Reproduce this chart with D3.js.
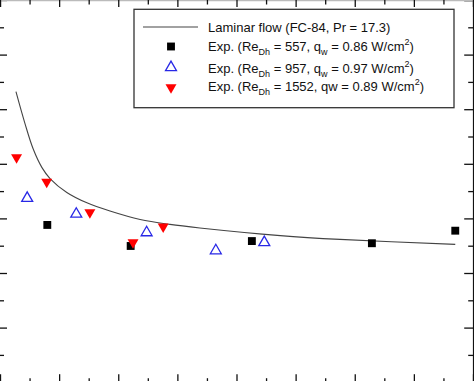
<!DOCTYPE html>
<html><head><meta charset="utf-8">
<script src="https://cdn.jsdelivr.net/npm/d3@7"></script>
<style>html,body{margin:0;padding:0;background:#fff;overflow:hidden}</style>
</head><body>
<svg id="c" width="474" height="381"></svg>
<script>
// Data (x: axial position, y: Nusselt-type value)
const laminarX = [2.7, 4.2, 5.6, 7.1, 8.5, 11.3, 14.7, 18.6, 23.7, 28.75, 33.8, 47.4, 57.5, 77.0];
const laminarY = [10.64, 9.49, 8.55, 7.86, 7.45, 6.95, 6.57, 6.27, 5.96, 5.78, 5.65, 5.37, 5.23, 5.05];
const re557X = [8.0, 22.1, 42.6, 62.9, 77.0];
const re557Y = [5.76, 4.99, 5.17, 5.09, 5.55];
const re957X = [4.6, 12.9, 24.8, 36.5, 44.7];
const re957Y = [6.74, 6.16, 5.48, 4.82, 5.12];
const re1552X = [2.8, 7.9, 15.2, 22.5, 27.6];
const re1552Y = [8.23, 7.34, 6.22, 5.12, 5.70];
const xMajorTicks = [0, 10, 20, 30, 40, 50, 60, 70, 80];
const xMinorTicks = [5, 15, 25, 35, 45, 55, 65, 75];
const yMajorTicks = [0, 2, 4, 6, 8, 10, 12, 14];
const yMinorTicks = [1, 3, 5, 7, 9, 11, 13];

const svg = d3.select('#c');
const x = d3.scaleLinear().domain([0, 80]).range([0, 473]);
const y = d3.scaleLinear().domain([0, 14]).range([382.2, 0]);

function axis(gen, tr, vals, size) {
  const g = svg.append('g').attr('transform', tr)
    .call(gen.tickValues(vals).tickSize(size).tickFormat(''));
  g.selectAll('.tick line').attr('stroke', '#111').attr('stroke-width', 1.3);
  return g;
}
// left (cropped) - inward ticks
axis(d3.axisLeft(y), 'translate(-1,0)', yMajorTicks, -8).select('.domain').remove();
axis(d3.axisLeft(y), 'translate(-1,0)', yMinorTicks, -5).select('.domain').remove();
// right
const gr = axis(d3.axisRight(y), 'translate(473.2,0)', yMajorTicks, -9);
gr.select('.domain').attr('stroke', '#111').attr('stroke-width', 1.6);
axis(d3.axisRight(y), 'translate(473.2,0)', yMinorTicks, -5).select('.domain').remove();
// bottom
axis(d3.axisBottom(x), 'translate(0,382.2)', xMajorTicks, -8).select('.domain').remove();
axis(d3.axisBottom(x), 'translate(0,382.2)', xMinorTicks, -4).select('.domain').remove();
// top
const gt = axis(d3.axisTop(x), 'translate(0,0)', xMajorTicks, -7);
gt.select('.domain').attr('stroke', '#bbb').attr('stroke-width', 1.5);
axis(d3.axisTop(x), 'translate(0,0)', xMinorTicks, -4.5).select('.domain').remove();

// laminar line
const lam = laminarX.map((v, i) => [v, laminarY[i]]);
svg.append('path').datum(lam)
  .attr('d', d3.line().x(d => x(d[0])).y(d => y(d[1])).curve(d3.curveCatmullRom.alpha(0.5)))
  .attr('fill', 'none').attr('stroke', '#444').attr('stroke-width', 1.1);

const sq = d3.symbol().type(d3.symbolSquare).size(62);
const tri = d3.symbol().type(d3.symbolTriangle).size(52);

function drawPts(xs, ys, draw) {
  xs.forEach((v, i) => draw(x(v), y(ys[i])));
}
drawPts(re557X, re557Y, (px, py) => svg.append('path').attr('d', sq())
  .attr('transform', `translate(${px},${py})`).attr('fill', '#000'));
drawPts(re957X, re957Y, (px, py) => svg.append('path').attr('d', tri())
  .attr('transform', `translate(${px},${py})`).attr('fill', 'none')
  .attr('stroke', '#2828e6').attr('stroke-width', 1.3));
drawPts(re1552X, re1552Y, (px, py) => svg.append('path').attr('d', tri())
  .attr('transform', `translate(${px},${py}) rotate(180)`).attr('fill', '#ff0000'));

// legend
const lg = svg.append('g');
lg.append('rect').attr('x', 134).attr('y', 9.3).attr('width', 320).attr('height', 98.4)
  .attr('fill', '#fff').attr('stroke', '#333').attr('stroke-width', 1.3);
const rows = [
  {b: 31.5, parts: [['Laminar flow (FC-84, Pr = 17.3)', 0]]},
  {b: 50.5, parts: [['Exp. (Re', 0], ['Dh', 1], [' = 557, q', 0], ['w', 1], [' = 0.86 W/cm', 0], ['2', 2], [')', 0]]},
  {b: 72.5, parts: [['Exp. (Re', 0], ['Dh', 1], [' = 957, q', 0], ['w', 1], [' = 0.97 W/cm', 0], ['2', 2], [')', 0]]},
  {b: 91, parts: [['Exp. (Re', 0], ['Dh', 1], [' = 1552, qw = 0.89 W/cm', 0], ['2', 2], [')', 0]]}
];
rows.forEach(r => {
  const t = lg.append('text').attr('x', 208).attr('y', r.b)
    .attr('font-family', 'Liberation Sans, Arial, sans-serif').attr('font-size', 13).attr('fill', '#111');
  let shift = 0;
  r.parts.forEach(([s, k]) => {
    const ts = t.append('tspan').text(s);
    const target = k === 1 ? 4 : k === 2 ? -6 : 0;
    const dy = target - shift; shift = target;
    if (dy) ts.attr('dy', dy);
    if (k) ts.attr('font-size', 9);
  });
});
lg.append('line').attr('x1', 143).attr('x2', 198).attr('y1', 27).attr('y2', 27)
  .attr('stroke', '#444').attr('stroke-width', 1.1);
lg.append('path').attr('d', sq()).attr('transform', 'translate(171,46.5)').attr('fill', '#000');
lg.append('path').attr('d', tri()).attr('transform', 'translate(171,67.5)')
  .attr('fill', 'none').attr('stroke', '#2828e6').attr('stroke-width', 1.3);
lg.append('path').attr('d', tri()).attr('transform', 'translate(171,87.5) rotate(180)').attr('fill', '#ff0000');
</script>
</body></html>
